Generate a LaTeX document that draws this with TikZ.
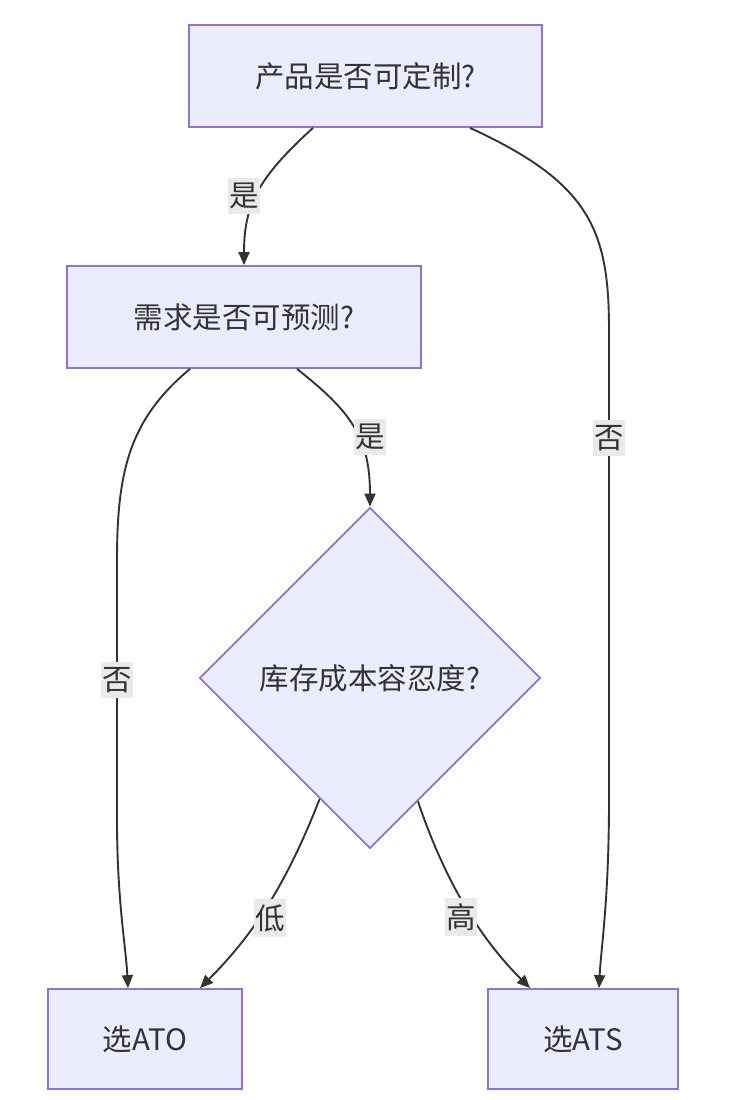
\documentclass[tikz,border=0pt]{standalone}
\usepackage{fontspec}
\setmainfont{Noto Sans CJK SC}
\usetikzlibrary{shapes.geometric,arrows.meta,calc}
\definecolor{mmfill}{HTML}{ECECFF}
\definecolor{mmstroke}{HTML}{9370DB}
\definecolor{mmtext}{HTML}{333333}
\definecolor{mmlab}{HTML}{EAEAEA}
\begin{document}
\begin{tikzpicture}[x=1pt,y=-1pt,
  box/.style={draw=mmstroke,fill=mmfill,line width=1.8pt,inner sep=0pt,text=mmtext,font=\fontsize{29.5}{34}\selectfont},
  dia/.style={diamond,aspect=1,draw=mmstroke,fill=mmfill,line width=1.8pt,inner sep=0pt,text=mmtext,font=\fontsize{29.5}{34}\selectfont,minimum width=341pt,minimum height=341pt},
  lab/.style={fill=mmlab,inner xsep=1.5pt,inner ysep=5pt,text=mmtext,font=\fontsize{29.5}{34}\selectfont},
  edge/.style={draw=mmtext,line width=1.9pt,-{Triangle[length=13pt,width=11pt]}}]
\useasboundingbox (0,0) rectangle (730,1100);
\fill[white] (0,0) rectangle (730,1100);
\node[box,minimum width=353pt,minimum height=102pt] (q1) at (365.5,76) {产品是否可定制?};
\node[box,minimum width=354pt,minimum height=102pt] (q2) at (244,317) {需求是否可预测?};
\node[dia] (d) at (370,678) {库存成本容忍度?};
\node[box,minimum width=194pt,minimum height=100pt] (ato) at (145,1039) {选ATO};
\node[box,minimum width=190pt,minimum height=100pt] (ats) at (583,1039) {选ATS};
% edges
\draw[edge] ([xshift=-52.5pt]q1.south) .. controls +(-55,50) and +(0,-60) .. (q2.north);
\draw[edge] ([xshift=104.5pt]q1.south) .. controls +(120,55) and +(0,-100) .. (609,330) -- (609,800) .. controls +(0,100) and +(2,-40) .. ([xshift=16pt]ats.north);
\draw[edge] ([xshift=-54pt]q2.south) .. controls +(-60,50) and +(0,-90) .. (117,560) -- (117,820) .. controls +(0,80) and +(-2,-40) .. ([xshift=-17pt]ato.north);
\draw[edge] ([xshift=53pt]q2.south) .. controls +(53,42) and +(0,-70) .. (d.north);
\draw[edge] ($(d.west)!0.706!(d.south)$) .. controls +(-35,90) and +(50,-50) .. ([xshift=55pt]ato.north);
\draw[edge] ($(d.south)!0.28!(d.east)$) .. controls +(27,80) and +(-50,-50) .. ([xshift=-53pt]ats.north);
% labels
\node[lab] (l1) at (244,196) {是};
\node[lab] (l2) at (609,438) {否};
\node[lab] (l3) at (370,437) {是};
\node[lab] (l4) at (117,680) {否};
\node[lab] (l5) at (270,918) {低};
\node[lab] (l6) at (461,917) {高};
\end{tikzpicture}
\end{document}
